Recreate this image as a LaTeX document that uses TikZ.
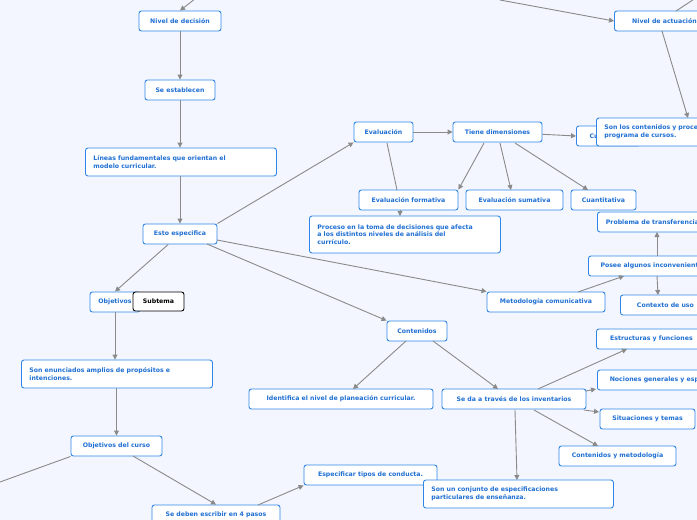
\documentclass[tikz,border=0pt]{standalone}
\usepackage{fontspec}
\setmainfont{DejaVu Sans}
\usetikzlibrary{arrows.meta}
\definecolor{bg}{HTML}{F3F6FE}
\definecolor{bd}{HTML}{2F86E6}
\definecolor{tx}{HTML}{1F6FD3}
\definecolor{ln}{HTML}{8A8A8A}
\tikzset{
  box/.style={draw=bd, line width=0.9pt, rounded corners=2.5pt, fill=white, text=tx,
    font=\fontsize{6.2}{7.6}\selectfont\bfseries, minimum height=20pt, inner xsep=4pt, inner ysep=2pt},
  mbox/.style={box, align=left, anchor=west, inner xsep=8pt},
  sub/.style={draw=black, line width=0.9pt, rounded corners=2.5pt, fill=white, text=black,
    font=\fontsize{6.2}{7.6}\selectfont\bfseries, minimum height=19pt},
  conn/.style={draw=ln, line width=0.9pt, -{Triangle[length=5pt,width=5pt]}},
  plain/.style={draw=ln, line width=0.9pt}
}
\begin{document}
\begin{tikzpicture}[x=1pt,y=-1pt]
\useasboundingbox (0,0) rectangle (697,520);
\fill[bg] (0,0) rectangle (697,520);
\clip (0,0) rectangle (697,520);
% nodes
\node[box, minimum width=82pt] (nd) at (180,21) {Nivel de decisión};
\node[box, minimum width=70pt] (se) at (180,90) {Se establecen};
\node[mbox, text width=175pt, minimum height=28pt] (lf) at (85,162) {Líneas fundamentales que orientan el\\modelo curricular.};
\node[box, minimum width=74pt] (ee) at (180,234) {Esto especifica};
\node[box, minimum width=50pt] (ob) at (115,302) {Objetivos};
\node[sub, minimum width=51pt] (subt) at (158.5,301.5) {Subtema};
\node[mbox, text width=175pt, minimum height=28pt] (en) at (21,374) {Son enunciados amplios de propósitos e\\intenciones.};
\node[box, minimum width=91pt] (oc) at (116.5,446) {Objetivos del curso};
\node[box, minimum width=128pt] (sd) at (216,515) {Se deben escribir en 4 pasos};
\node[box, minimum width=133pt] (et) at (370.5,475) {Especificar tipos de conducta.};
\node[box, minimum width=59pt] (ev) at (383.5,132) {Evaluación};
\node[box, minimum width=89pt] (td) at (497.5,132) {Tiene dimensiones};
\node[box, minimum width=64pt, anchor=west] (cu) at (576,136) {Cualitativa};
\node[mbox, text width=150pt, minimum height=28pt] (sc) at (596,132) {Son los contenidos y procedimientos\\programa de cursos.};
\node[box, minimum width=100pt, anchor=west] (na) at (614,21) {Nivel de actuación};
\node[box, minimum width=99pt] (ef) at (408.5,200) {Evaluación formativa};
\node[box, minimum width=97pt] (es) at (514.5,200) {Evaluación sumativa};
\node[box, minimum width=65pt] (cn) at (603.5,200) {Cuantitativa};
\node[mbox, text width=175pt, minimum height=37pt] (pr) at (309,234.5) {Proceso en la toma de decisiones que afecta\\a los distintos niveles de análisis del\\currículo.};
\node[box, minimum width=110pt, anchor=west] (pt) at (597,222) {Problema de transferencia};
\node[box, minimum width=130pt, anchor=west] (po) at (588,266) {Posee algunos inconvenientes};
\node[box, minimum width=90pt, anchor=west] (cx) at (620,305) {Contexto de uso};
\node[box, minimum width=118pt] (mc) at (546,302) {Metodología comunicativa};
\node[box, minimum width=60pt] (co) at (417,331) {Contenidos};
\node[box, minimum width=184pt] (id) at (341,399) {Identifica el nivel de planeación curricular.};
\node[box, minimum width=144pt] (sa) at (514,399) {Se da a través de los inventarios};
\node[box, minimum width=110pt, anchor=west] (ey) at (596,339) {Estructuras y funciones};
\node[box, minimum width=140pt, anchor=west] (ng) at (597,380) {Nociones generales y específicas};
\node[box, minimum width=95pt] (st) at (647.5,419) {Situaciones y temas};
\node[box, minimum width=117pt] (cm) at (617.5,456) {Contenidos y metodología};
\node[mbox, text width=174pt, minimum height=28pt] (sj) at (423,494) {Son un conjunto de especificaciones\\particulares de enseñanza.};
\coordinate (t1) at (200,-5);
\coordinate (t2) at (500,0);
\coordinate (t3) at (705,-8);
\coordinate (l1) at (0,482);
% connectors
\draw[conn] (t1) -- (nd.north);
\draw[conn] (nd) -- (se);
\draw[conn] (se) -- (se |- lf.north);
\draw[conn] (lf.south -| ee) -- (ee);
\draw[conn] (t2) -- (na.west);
\draw[plain] (t3) -- (676,11);
\draw[conn] (662,31) -- (688,118);
\draw[conn] (ee.north east) -- (ev.south west);
\draw[conn] (ee) -- (ob.north);
\draw[conn] (ob.south) -- (ob.south |- en.north);
\draw[conn] (en.south -| oc) -- (oc);
\draw[plain] (oc.south west) -- (l1);
\draw[conn] (133,456) -- (sd.north);
\draw[conn] (258,505) -- (et.south west);
\draw[conn] (207,244) -- (co.north west);
\draw[conn] (217,240) -- (mc.north west);
\draw[conn] (ev) -- (td);
\draw[conn] (td) -- (cu.west);
\draw[conn] (484,143) -- (ef.north east);
\draw[conn] (500,143) -- (511,190);
\draw[conn] (515,143) -- (588,190);
\draw[plain] (387,143) -- (397,190);
\draw[conn] (400,210) -- (400,216);
\draw[conn] (578,292) -- (624,276);
\draw[conn] (657,256) -- (657,232);
\draw[conn] (657,276) -- (658,295);
\draw[conn] (406,341) -- (353,389);
\draw[conn] (433,341) -- (498,389);
\draw[conn] (538,389) -- (627,349);
\draw[conn] (586,391) -- (596,389);
\draw[conn] (584,410) -- (599,412);
\draw[conn] (534,410) -- (598,446);
\draw[conn] (515,410) -- (517,480);
\end{tikzpicture}
\end{document}
